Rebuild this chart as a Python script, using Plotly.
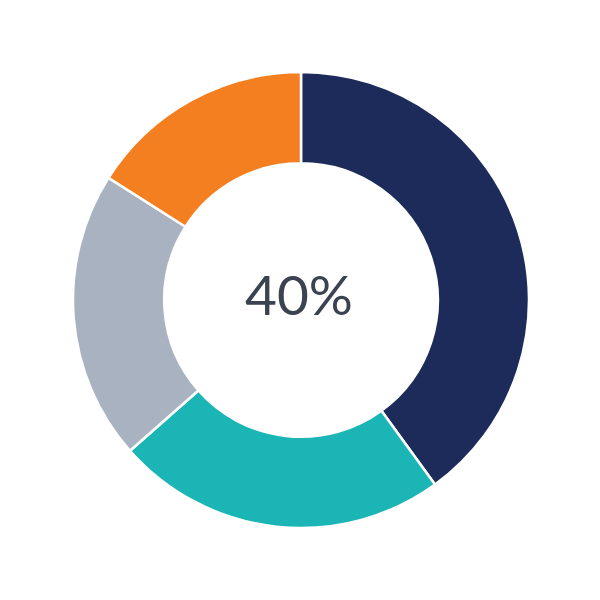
import plotly.graph_objects as go

labels = ["A", "B", "C", "D"]
values = [40, 23.5, 20.5, 16]
colors = ["#1c2b5a", "#1bb5b6", "#a8b2c1", "#f47f20"]
center_text = "40%"

fig = go.Figure(
    go.Pie(
        labels=labels,
        values=values,
        hole=0.6,
        sort=False,
        direction="clockwise",
        rotation=0,
        textinfo="none",
        hoverinfo="label+percent",
        marker=dict(colors=colors, line=dict(color="white", width=2.5)),
        showlegend=False,
    )
)

fig.add_annotation(
    text=center_text,
    x=0.5,
    y=0.5,
    xref="paper",
    yref="paper",
    xshift=-2,
    yshift=6,
    showarrow=False,
    font=dict(family="Lato", size=55, color="#3b4250"),
)

# page body adds 8px, so shift the plot area up/left to keep the ring centred
fig.update_layout(
    width=600,
    height=600,
    margin=dict(l=65, r=79, t=64, b=80),
    paper_bgcolor="white",
    plot_bgcolor="white",
)

fig.write_html("out.html")
